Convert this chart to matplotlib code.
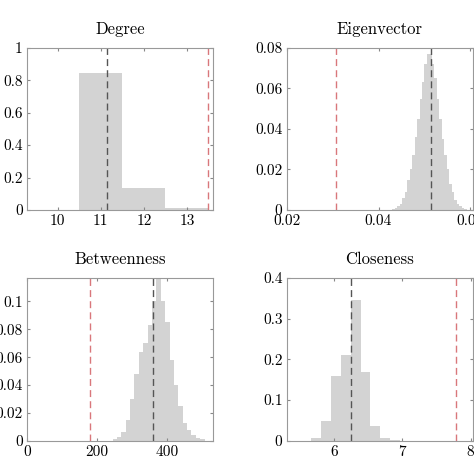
import matplotlib
matplotlib.use("Agg")
import matplotlib.pyplot as plt
import numpy as np

plt.rcParams['font.family'] = 'serif'
plt.rcParams['font.serif'] = ['cmr10']
plt.rcParams['axes.formatter.use_mathtext'] = True

deg_edges = [10.5, 11.5, 12.5, 13.5]
deg_vals = [0.845, 0.135, 0.01]
deg_mean, deg_obs = 11.15, 13.48

eig_start, eig_w = 0.0430, 0.00054
eig_vals = [0.0005, 0.001, 0.002, 0.003, 0.006, 0.009, 0.015, 0.02, 0.027, 0.036, 0.045,
            0.055, 0.063, 0.072, 0.077, 0.077, 0.072, 0.065, 0.055, 0.045, 0.035, 0.027,
            0.02, 0.013, 0.009, 0.005, 0.003, 0.002, 0.001, 0.0005]
eig_mean, eig_obs = 0.0515, 0.0307

bet_start, bet_w = 244, 12.5
bet_vals = [0.001, 0.003, 0.006, 0.015, 0.03, 0.048, 0.064, 0.07, 0.083, 0.1, 0.117,
            0.1, 0.085, 0.058, 0.04, 0.025, 0.013, 0.008, 0.004, 0.002, 0.001]
bet_mean, bet_obs = 360, 180

clo_start, clo_w = 5.66, 0.145
clo_vals = [0.008, 0.048, 0.158, 0.21, 0.345, 0.17, 0.036, 0.008, 0.002]
clo_mean, clo_obs = 6.25, 7.79

fig = plt.figure(figsize=(4.74, 4.74), dpi=100)
W, H = 0.392, 0.342

def panel(rect, edges, vals, mean, obs, xlim, ylim, xticks, yticks, ylabels, title):
    ax = fig.add_axes(rect)
    edges = np.asarray(edges)
    ax.bar(edges[:-1], vals, width=np.diff(edges), align='edge', color='#d3d3d3', linewidth=0)
    ax.axvline(mean, color='#555555', ls=(0, (5, 3)), lw=1.0)
    ax.axvline(obs, color='#d9777b', ls=(0, (5, 3)), lw=1.0)
    ax.set_xlim(*xlim); ax.set_ylim(*ylim)
    ax.set_xticks(xticks); ax.set_yticks(yticks); ax.set_yticklabels(ylabels)
    ax.set_xticklabels([f"{t:g}" for t in xticks])
    ax.tick_params(direction='in', top=True, right=True, length=2.5, labelsize=11,
                   color='#888888', pad=3)
    for s in ax.spines.values():
        s.set_color('#999999'); s.set_linewidth(0.8)
    ax.set_title(title, fontsize=12, pad=10)
    return ax

panel([0.057, 0.557, W, H], deg_edges, deg_vals, deg_mean, deg_obs, (9.29, 13.6), (0, 1),
      [10, 11, 12, 13], [0, 0.2, 0.4, 0.6, 0.8, 1], ['0', '0.2', '0.4', '0.6', '0.8', '1'], 'Degree')
eig_edges = eig_start + eig_w * np.arange(len(eig_vals) + 1)
panel([0.605, 0.557, W, H], eig_edges, eig_vals, eig_mean, eig_obs, (0.02, 0.0605), (0, 0.08),
      [0.02, 0.04, 0.06], [0, 0.02, 0.04, 0.06, 0.08], ['0', '0.02', '0.04', '0.06', '0.08'], 'Eigenvector')
bet_edges = bet_start + bet_w * np.arange(len(bet_vals) + 1)
panel([0.057, 0.070, W, 0.344], bet_edges, bet_vals, bet_mean, bet_obs, (0, 530), (0, 0.117),
      [0, 200, 400], [0, 0.02, 0.04, 0.06, 0.08, 0.1], ['0', '0.02', '0.04', '0.06', '0.08', '0.1'], 'Betweenness')
clo_edges = clo_start + clo_w * np.arange(len(clo_vals) + 1)
panel([0.605, 0.070, W, 0.344], clo_edges, clo_vals, clo_mean, clo_obs, (5.3, 8.03), (0, 0.4),
      [6, 7, 8], [0, 0.1, 0.2, 0.3, 0.4], ['0', '0.1', '0.2', '0.3', '0.4'], 'Closeness')

fig.savefig('out.png', dpi=100)
